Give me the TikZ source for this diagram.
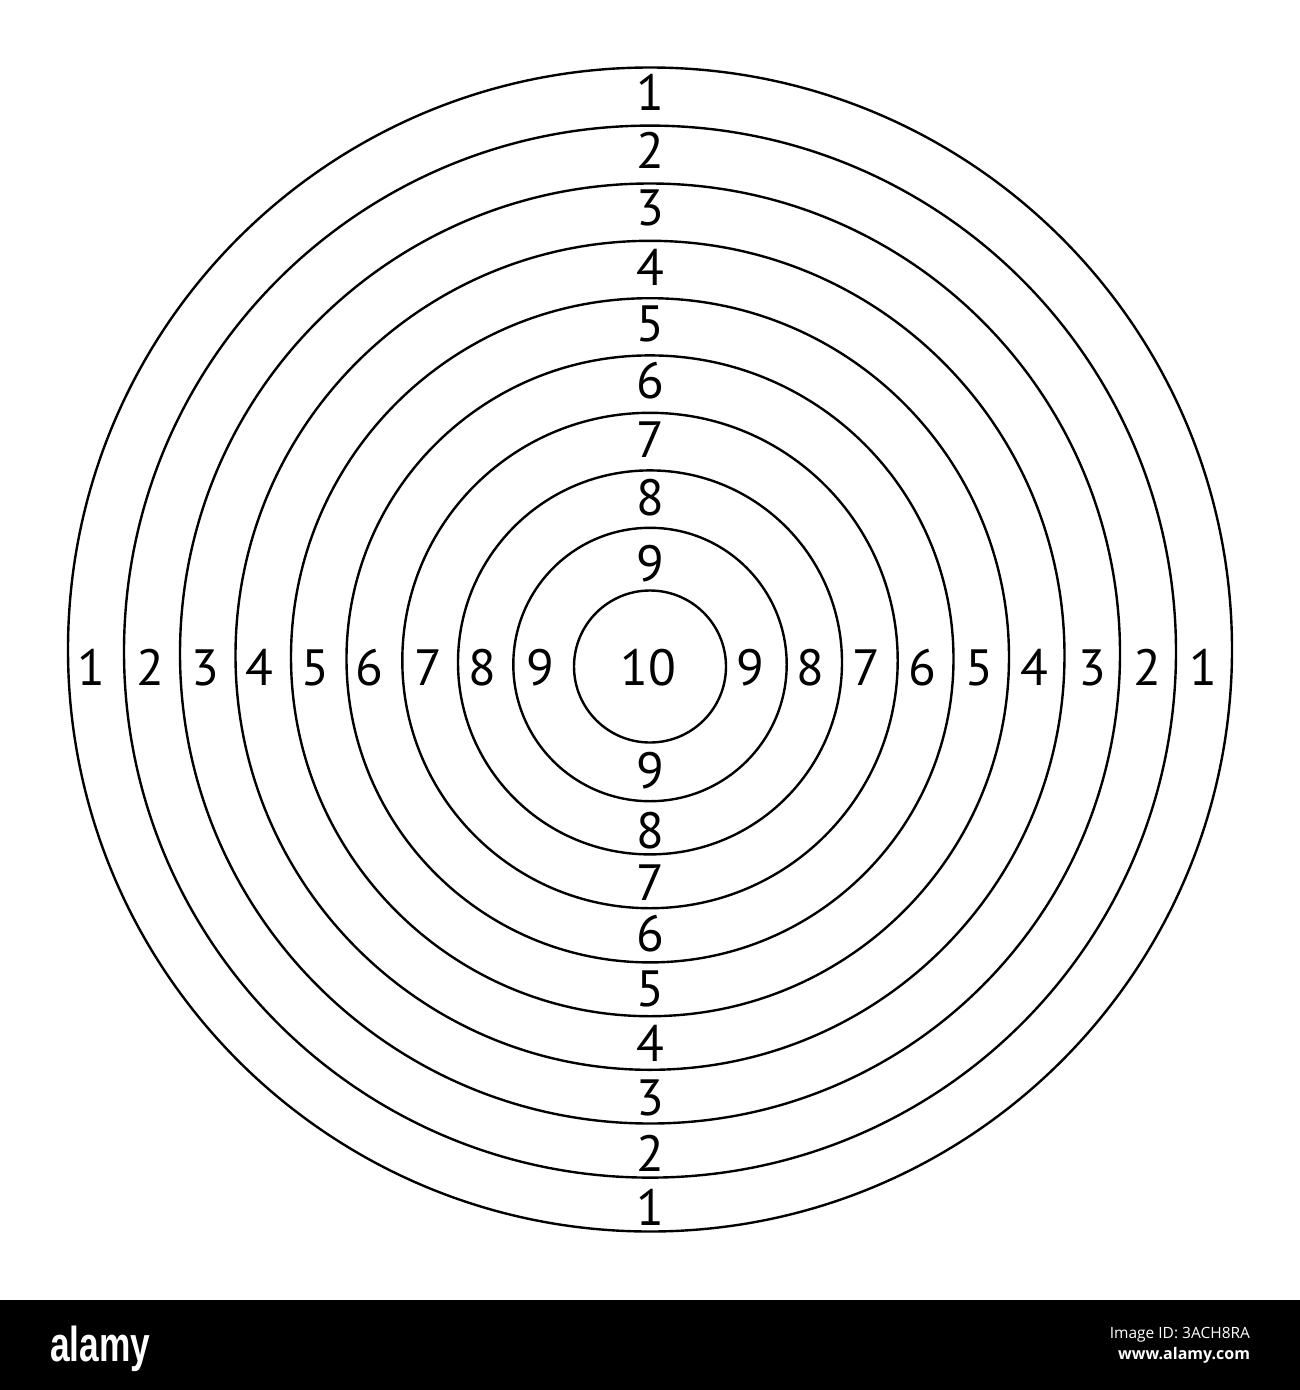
\documentclass[tikz,border=0pt]{standalone}
\usepackage{fontspec}
\usepackage{graphicx}
\setmainfont{PT Sans}
\newfontfamily\barfont{Open Sans}
\newfontfamily\logofont{Liberation Sans}
\begin{document}
\begin{tikzpicture}[x=1pt,y=-1pt,
  ring/.style={draw=black,line width=2.4pt},
  num/.style={inner sep=0pt,outer sep=0pt,anchor=center,font=\fontsize{51}{55}\selectfont},
  bartext/.style={inner sep=0pt,outer sep=0pt,text=white}]
\useasboundingbox (0,0) rectangle (1300,1390);
\fill[white] (0,0) rectangle (1300,1390);
% rings (centres drift slightly downwards towards the bull)
\foreach \r/\cy in {582/649.5,526/651.6,470/653.5,414.5/655.3,359/657.2,303.5/658.9,247.7/660.5,192/662.4,136.7/664.5,76/666.5}
  \draw[ring] (650,\cy) circle[radius=\r];
% horizontal labels
\foreach \x/\t [count=\i] in {91.7/1,150/2,205/3,259/4,315/5,369/6,428/7,482/8,540/9}
  \node[num] (l\i) at (\x,667.7) {\t};
\node[num] (c10) at (648,667.8) {10};
\foreach \x/\t [count=\i] in {750/9,810/8,866/7,922.7/6,979/5,1034/4,1092.7/3,1147.7/2,1203/1}
  \node[num] (r\i) at (\x,667.7) {\t};
% vertical labels
\foreach \y/\t [count=\i] in {92.8/1,150.3/2,207.8/3,267/4,323.7/5,380.8/6,440/7,497.8/8,564/9}
  \node[num] (t\i) at (650,\y) {\t};
\foreach \y/\t [count=\i] in {771/9,831/8,882.5/7,934/6,989/5,1043.7/4,1097.5/3,1153.8/2,1207/1}
  \node[num] (b\i) at (650,\y) {\t};
% watermark bar
\fill[black] (0,1300) rectangle (1300,1390);
\node[bartext,anchor=base west] (logo) at (50,1361)
  {\scalebox{0.72}[1]{\logofont\bfseries\fontsize{49}{50}\selectfont alamy}};
\node[bartext,anchor=base east] (imgid) at (1250,1338.3)
  {\barfont\fontsize{15.5}{17}\selectfont Image ID: 3ACH8RA};
\node[bartext,anchor=base east] (www) at (1250,1359.5)
  {\barfont\bfseries\fontsize{16}{18}\selectfont www.alamy.com};
\end{tikzpicture}
\end{document}
